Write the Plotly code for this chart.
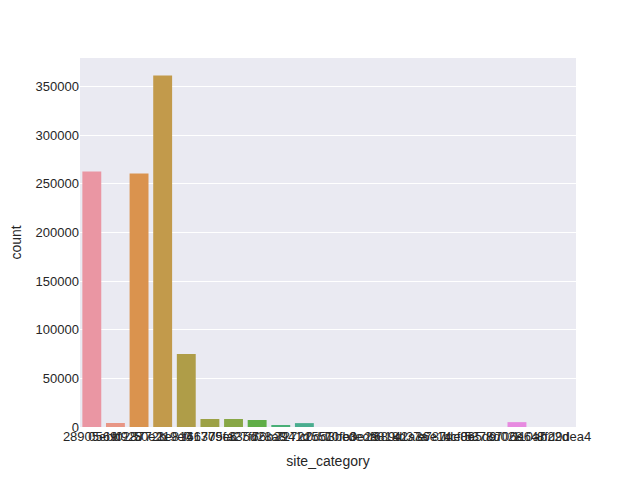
import math
import colorsys
import plotly.graph_objects as go

# data
categories = ["28905ebd", "0569f928", "f028772b", "50e219e0", "3e814130",
              "f66779e6", "75fa27f6", "335d28a8", "76b2941d", "72722551",
              "c0dd3be3", "70fb0e29", "dedf689d", "a818d37a", "42a36e14",
              "e787de0e", "bcf865d9", "5378d028", "c706e647", "110ab22d",
              "8fd9dea4"]
counts = [262700, 4100, 260600, 361200, 75100,
          8200, 8200, 7200, 2000, 4000,
          0, 0, 0, 0, 0,
          0, 0, 0, 5000, 0,
          0]

# seaborn-ish husl palette (l=.7), desaturated 0.75
M = [[3.2406, -1.5372, -0.4986], [-0.9689, 1.8758, 0.0415], [0.0557, -0.2040, 1.0570]]


def max_chroma(L, H):
    sinH, cosH = math.sin(math.radians(H)), math.cos(math.radians(H))
    sub1 = (L + 16) ** 3 / 1560896.0
    sub2 = sub1 if sub1 > 0.008856 else L / 903.3
    res = float("inf")
    for m1, m2, m3 in M:
        top = (0.99915 * m1 + 1.05122 * m2 + 1.14460 * m3) * sub2
        bottom = ((0.86330 * m3 - 0.17266 * m2) * sinH + (0.12949 * m3 - 0.38848 * m1) * cosH) * sub2
        for t in (0.0, 1.0):
            C = L * (top - 1.05122 * t) / (bottom + 0.17266 * sinH * t)
            if 0 < C < res:
                res = C
    return res


def husl_rgb(H, S, L):
    C = max_chroma(L, H) / 100 * S
    U, V = math.cos(math.radians(H)) * C, math.sin(math.radians(H)) * C
    t = (L + 16) / 116
    Y = t ** 3 if t ** 3 > 0.008856 else (116 * t - 16) / 903.3
    vu = U / (13 * L) + 0.19784
    vv = V / (13 * L) + 0.46834
    X = -(9 * Y * vu) / ((vu - 4) * vv - vu * vv)
    Z = (9 * Y - 15 * vv * Y - vv * X) / (3 * vv)
    out = []
    for row in M:
        c = row[0] * X + row[1] * Y + row[2] * Z
        c = 12.92 * c if c <= 0.0031308 else 1.055 * c ** (1 / 2.4) - 0.055
        out.append(min(max(c, 0), 1))
    return out


n = len(categories)
colors = []
for i in range(n):
    h = ((i / n + 0.01) % 1) * 359
    r, g, b = husl_rgb(h, 0.9 * 99, 0.7 * 99)
    hh, ll, ss = colorsys.rgb_to_hls(r, g, b)
    r, g, b = colorsys.hls_to_rgb(hh, ll, ss * 0.75)
    colors.append("rgb(%d,%d,%d)" % (round(r * 255), round(g * 255), round(b * 255)))

fig = go.Figure(go.Bar(x=categories, y=counts, marker_color=colors,
                       marker_line_width=0, width=0.8))

# the page body adds 8px, so the figure is a bit smaller and shifted back
fig.update_layout(
    width=632, height=472,
    margin=dict(l=72, r=64, t=50, b=53),
    paper_bgcolor="white", plot_bgcolor="#EAEAF2",
    font=dict(family="Liberation Sans, Arial", size=13, color="#262626"),
    showlegend=False,
)
fig.update_xaxes(title_text="site_category", title_font_size=14, title_standoff=13,
                 tickmode="array", tickvals=categories, tickangle=0, automargin=False,
                 showgrid=False, range=[-0.5, n - 0.5], ticks="", ticklen=0)
fig.update_yaxes(title_text="count", title_font_size=14, title_standoff=15, automargin=False,
                 range=[0, 379300], dtick=50000, tickformat="d",
                 gridcolor="white", gridwidth=1, zeroline=False, ticks="")

fig.write_html("out.html")
